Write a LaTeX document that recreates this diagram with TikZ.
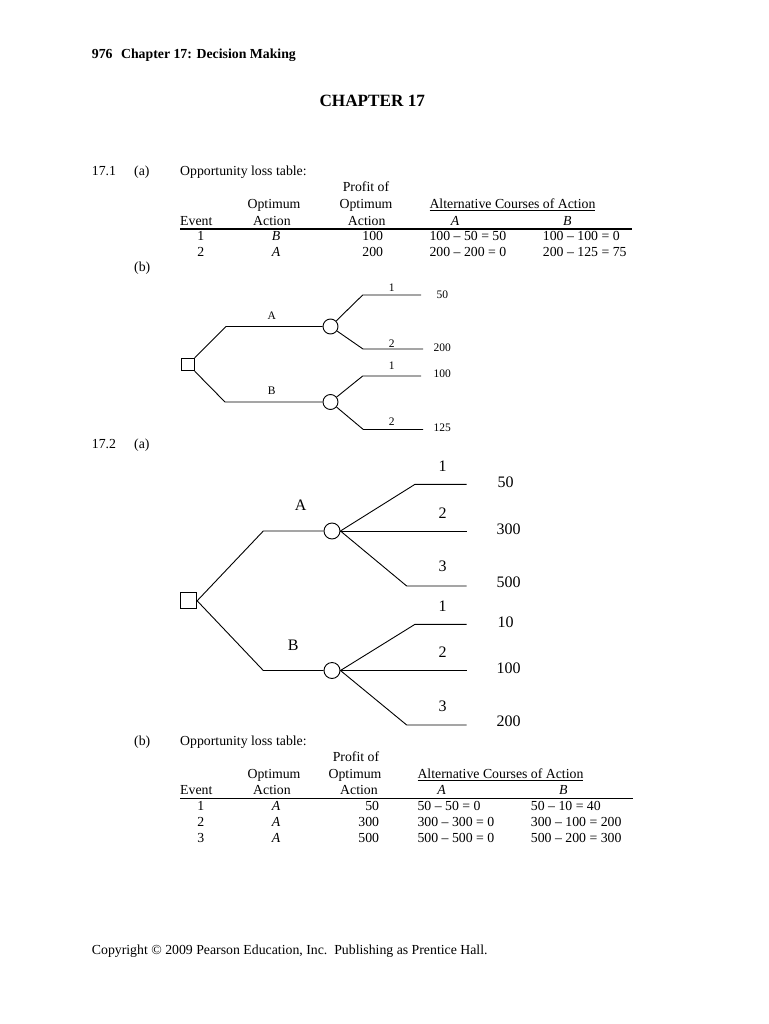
\documentclass[tikz,border=0pt]{standalone}
\usepackage{fontspec}
\setmainfont{Liberation Serif}
\begin{document}
\begin{tikzpicture}[x=1pt,y=-1pt,
  every node/.style={inner sep=0pt,text height=0.662em,text depth=0pt},
  body/.style={font=\fontsize{13.8}{16}\selectfont},
  boldtxt/.style={font=\fontsize{13.8}{16}\selectfont\bfseries},
  titletxt/.style={font=\fontsize{17.2}{20}\selectfont\bfseries},
  smalllab/.style={font=\fontsize{11.5}{13}\selectfont},
  biglab/.style={font=\fontsize{16}{18}\selectfont},
  branch/.style={line width=0.9pt},
  decision/.style={draw,rectangle,line width=0.9pt,fill=white,text height=0pt},
  chance/.style={draw,circle,line width=0.9pt,fill=white,text height=0pt},
  tablerule/.style={line width=1.2pt}
]
\useasboundingbox (0,0) rectangle (768,1024);
\fill[white] (0,0) rectangle (768,1024);

% header
\node[boldtxt,anchor=west] (hdr) at (91.7,55) {976\hspace{8.5pt}Chapter 17: Decision Making};
\node[titletxt,anchor=west] (ttl) at (319.3,103.5) {CHAPTER 17};

% ---------- 17.1 (a)
\node[body,anchor=west] (p1) at (91.7,172.5) {17.1};
\node[body,anchor=west] (p1a) at (134,172.5) {(a)};
\node[body,anchor=west] (p1t) at (180,172.5) {Opportunity loss table:};
\node[body] (t1pr) at (366,188.3) {Profit of};
\node[body] (t1o2) at (274,205) {Optimum};
\node[body] (t1o3) at (366,205) {Optimum};
\node[body,anchor=west] (t1alt) at (429.3,205) {\underline{Alternative Courses of Action}};
\node[body,anchor=west] (t1ev) at (180,221.7) {Event};
\node[body] (t1a2) at (272,221.7) {Action};
\node[body] (t1a3) at (366.7,221.7) {Action};
\node[body] (t1A) at (455,221.7) {\textit{A}};
\node[body] (t1B) at (567.3,221.7) {\textit{B}};
\draw[tablerule] (180,229) -- (631.7,229);
\node[body] (t1r1e) at (200.7,237.3) {1};
\node[body] (t1r1o) at (276,237.3) {\textit{B}};
\node[body,anchor=east] (t1r1p) at (383.3,237.3) {100};
\node[body,anchor=west] (t1r1a) at (429.3,237.3) {100 – 50 = 50};
\node[body,anchor=west] (t1r1b) at (542.7,237.3) {100 – 100 = 0};
\node[body] (t1r2e) at (200.7,253.3) {2};
\node[body] (t1r2o) at (276,253.3) {\textit{A}};
\node[body,anchor=east] (t1r2p) at (383.3,253.3) {200};
\node[body,anchor=west] (t1r2a) at (429.3,253.3) {200 – 200 = 0};
\node[body,anchor=west] (t1r2b) at (542.7,253.3) {200 – 125 = 75};

% ---------- 17.1 (b)
\node[body,anchor=west] (p1b) at (134,268.5) {(b)};
\node[decision,minimum size=12.5pt] (s1) at (188,364.5) {};
\node[chance,minimum size=15pt] (c1) at (330.5,326.5) {};
\node[chance,minimum size=15pt] (c2) at (330.5,402) {};
\coordinate (s1u) at (226,326.5);
\coordinate (s1d) at (225,402);
\coordinate (c1a) at (362.7,295);  \coordinate (c1ae) at (421,295);
\coordinate (c1b) at (363,349);    \coordinate (c1be) at (423,349);
\coordinate (c2a) at (362.7,376);  \coordinate (c2ae) at (421,376);
\coordinate (c2b) at (363.3,429.5);\coordinate (c2be) at (423,429.5);
\draw[branch] (s1.north east) -- (s1u) -- (c1);
\draw[branch] (s1.south east) -- (s1d) -- (c2);
\draw[branch] (c1) -- (c1a) -- (c1ae);
\draw[branch] (c1) -- (c1b) -- (c1be);
\draw[branch] (c2) -- (c2a) -- (c2ae);
\draw[branch] (c2) -- (c2b) -- (c2be);
\node[smalllab] (l1A) at (271.7,316) {A};
\node[smalllab] (l1B) at (271.7,391) {B};
\node[smalllab] (l1a1) at (391.7,288.5) {1};
\node[smalllab] (l1a2) at (391.7,344) {2};
\node[smalllab] (l1b1) at (391.7,366) {1};
\node[smalllab] (l1b2) at (391.7,422) {2};
\node[smalllab,anchor=west] (v1a1) at (436.5,295.5) {50};
\node[smalllab,anchor=west] (v1a2) at (433.5,348) {200};
\node[smalllab,anchor=west] (v1b1) at (433.5,374) {100};
\node[smalllab,anchor=west] (v1b2) at (433.5,428) {125};

% ---------- 17.2 (a)
\node[body,anchor=west] (p2) at (91.7,445) {17.2};
\node[body,anchor=west] (p2a) at (134,445) {(a)};
\node[decision,minimum size=16pt] (s2) at (188.7,600.8) {};
\node[chance,minimum size=16pt] (c3) at (332,531) {};
\node[chance,minimum size=16pt] (c4) at (332,670.5) {};
\coordinate (s2u) at (263.3,531);
\coordinate (s2d) at (263.3,670.5);
\coordinate (c3a) at (415,484.3);   \coordinate (c3ae) at (466.7,484.3);
\coordinate (c3be) at (466.7,531);
\coordinate (c3c) at (406.7,586);   \coordinate (c3ce) at (466.7,586);
\coordinate (c4a) at (415,624.3);   \coordinate (c4ae) at (466.7,624.3);
\coordinate (c4be) at (466.7,670.5);
\coordinate (c4c) at (406.7,725);   \coordinate (c4ce) at (466.7,725);
\draw[branch] (s2.east) -- (s2u) -- (c3.west);
\draw[branch] (s2.east) -- (s2d) -- (c4.west);
\draw[branch] (c3.east) -- (c3a) -- (c3ae);
\draw[branch] (c3.east) -- (c3be);
\draw[branch] (c3.east) -- (c3c) -- (c3ce);
\draw[branch] (c4.east) -- (c4a) -- (c4ae);
\draw[branch] (c4.east) -- (c4be);
\draw[branch] (c4.east) -- (c4c) -- (c4ce);
\node[biglab] (l2A) at (300.7,507.3) {A};
\node[biglab] (l2B) at (293.3,646.7) {B};
\node[biglab] (l2a1) at (442.7,468.3) {1};
\node[biglab] (l2a2) at (442.7,515) {2};
\node[biglab] (l2a3) at (442.7,568.3) {3};
\node[biglab] (l2b1) at (442.7,608.3) {1};
\node[biglab] (l2b2) at (442.7,654) {2};
\node[biglab] (l2b3) at (442.7,707.7) {3};
\node[biglab,anchor=west] (v2a1) at (497.5,484.3) {50};
\node[biglab,anchor=west] (v2a2) at (496.5,531) {300};
\node[biglab,anchor=west] (v2a3) at (496.5,584.3) {500};
\node[biglab,anchor=west] (v2b1) at (497.5,624.3) {10};
\node[biglab,anchor=west] (v2b2) at (496.5,670) {100};
\node[biglab,anchor=west] (v2b3) at (496.5,723.3) {200};

% ---------- 17.2 (b)
\node[body,anchor=west] (p2b) at (134,742) {(b)};
\node[body,anchor=west] (p2t) at (180,742) {Opportunity loss table:};
\node[body] (t2pr) at (356,758.3) {Profit of};
\node[body] (t2o2) at (274,775) {Optimum};
\node[body] (t2o3) at (355,775) {Optimum};
\node[body,anchor=west] (t2alt) at (417.3,775) {\underline{Alternative Courses of Action}};
\node[body,anchor=west] (t2ev) at (180,791) {Event};
\node[body] (t2a2) at (272,791) {Action};
\node[body] (t2a3) at (359,791) {Action};
\node[body] (t2A) at (441.5,791) {\textit{A}};
\node[body] (t2B) at (563.3,791) {\textit{B}};
\draw[tablerule] (180,798.3) -- (633.3,798.3);
\node[body] (t2r1e) at (200.7,807.3) {1};
\node[body] (t2r1o) at (276,807.3) {\textit{A}};
\node[body,anchor=east] (t2r1p) at (379.3,807.3) {50};
\node[body,anchor=west] (t2r1a) at (417.3,807.3) {50 – 50 = 0};
\node[body,anchor=west] (t2r1b) at (530.7,807.3) {50 – 10 = 40};
\node[body] (t2r2e) at (200.7,823) {2};
\node[body] (t2r2o) at (276,823) {\textit{A}};
\node[body,anchor=east] (t2r2p) at (379.3,823) {300};
\node[body,anchor=west] (t2r2a) at (417.3,823) {300 – 300 = 0};
\node[body,anchor=west] (t2r2b) at (530.7,823) {300 – 100 = 200};
\node[body] (t2r3e) at (200.7,839) {3};
\node[body] (t2r3o) at (276,839) {\textit{A}};
\node[body,anchor=east] (t2r3p) at (379.3,839) {500};
\node[body,anchor=west] (t2r3a) at (417.3,839) {500 – 500 = 0};
\node[body,anchor=west] (t2r3b) at (530.7,839) {500 – 200 = 300};

% footer
\node[body,anchor=west] (ftr) at (91.7,951.5) {Copyright © 2009 Pearson Education, Inc.\ \ Publishing as Prentice Hall.};
\end{tikzpicture}
\end{document}
